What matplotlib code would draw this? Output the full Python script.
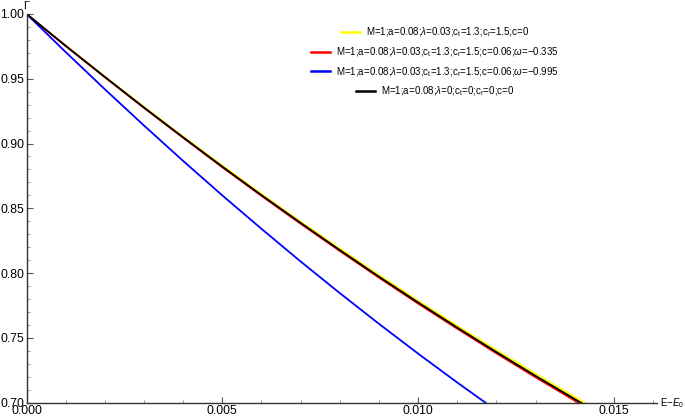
import numpy as np
import matplotlib.pyplot as plt
from matplotlib.legend import Legend
from matplotlib.ticker import MultipleLocator, FormatStrFormatter

plt.rcParams['font.family'] = ['Liberation Sans', 'DejaVu Sans']
plt.rcParams['mathtext.fontset'] = 'custom'
plt.rcParams['mathtext.rm'] = 'Liberation Sans'
plt.rcParams['mathtext.it'] = 'Liberation Sans:italic'

# values
E = [0.000, 0.001, 0.002, 0.003, 0.004, 0.005, 0.006, 0.007,
     0.008, 0.009, 0.010, 0.011, 0.012, 0.013, 0.014, 0.015]
g_yellow = [1.000, 0.9755, 0.9517, 0.9283, 0.9054, 0.8830, 0.8611, 0.8398,
            0.8189, 0.7985, 0.7787, 0.7594, 0.7406, 0.7223, 0.7045, 0.6872]
g_red = [1.000, 0.9753, 0.9512, 0.9275, 0.9044, 0.8817, 0.8596, 0.8381,
         0.8171, 0.7965, 0.7765, 0.7571, 0.7381, 0.7196, 0.7016, 0.6842]
g_black = [1.000, 0.9754, 0.9514, 0.9278, 0.9048, 0.8822, 0.8602, 0.8388,
           0.8178, 0.7973, 0.7774, 0.7580, 0.7391, 0.7207, 0.7028, 0.6854]
E_blue = [0.000, 0.001, 0.002, 0.003, 0.004, 0.005, 0.006,
          0.007, 0.008, 0.009, 0.010, 0.011, 0.012]
g_blue = [1.000, 0.9706, 0.9419, 0.9139, 0.8866, 0.8600, 0.8342,
          0.8090, 0.7846, 0.7609, 0.7379, 0.7156, 0.6940]

labels = [
    r"M=1;a=0.08;$\lambda$=0.03;c$_\mathrm{t}$=1.3;c$_\mathrm{r}$=1.5;c=0",
    r"M=1;a=0.08;$\lambda$=0.03;c$_\mathrm{t}$=1.3;c$_\mathrm{r}$=1.5;c=0.06;$\omega$=" + "\u22120.335",
    r"M=1;a=0.08;$\lambda$=0.03;c$_\mathrm{t}$=1.3;c$_\mathrm{r}$=1.5;c=0.06;$\omega$=" + "\u22120.995",
    r"M=1;a=0.08;$\lambda$=0;c$_\mathrm{t}$=0;c$_\mathrm{r}$=0;c=0",
]

fig = plt.figure(figsize=(6.85, 4.18), dpi=100)
ax = fig.add_axes([0.0387, 0.0366, 0.9203, 0.93])

l1, = ax.plot(E, g_yellow, color='#ffff00', lw=1.3)
l2, = ax.plot(E, g_red, color='#ff0000', lw=1.3)
l3, = ax.plot(E_blue, g_blue, color='#0000ff', lw=1.3)
l4, = ax.plot(E, g_black, color='black', lw=1.3)

ax.set_xlim(0, 0.0161)
ax.set_ylim(0.70, 1.00)
for s in ['top', 'right']:
    ax.spines[s].set_visible(False)
for s in ['left', 'bottom']:
    ax.spines[s].set_linewidth(1.0)
    ax.spines[s].set_color('#333333')

ax.xaxis.set_major_locator(MultipleLocator(0.005))
ax.xaxis.set_minor_locator(MultipleLocator(0.001))
ax.yaxis.set_major_locator(MultipleLocator(0.05))
ax.yaxis.set_minor_locator(MultipleLocator(0.01))
ax.xaxis.set_major_formatter(FormatStrFormatter('%.3f'))
ax.yaxis.set_major_formatter(FormatStrFormatter('%.2f'))
ax.tick_params(which='major', direction='in', length=4, width=0.8, color='#555555',
               labelsize=8.8, pad=1.5)
ax.tick_params(which='minor', direction='in', length=2.5, width=0.6, color='#888888')

fig.text(0.0387, 0.997, "\u0393", ha='center', va='top', fontsize=8)
fig.text(0.963, 0.036, "E\u2212$E_0$", ha='left', va='center', fontsize=7)

rows = [0.922, 0.874, 0.828, 0.782]
for h, lab, y in zip([l1, l2, l3, l4], labels, rows):
    lg = Legend(ax, [h], [lab], loc='center', bbox_to_anchor=(0.635, y),
                bbox_transform=fig.transFigure, frameon=False, fontsize=7,
                handlelength=2.0, handletextpad=0.6, borderpad=0)
    for ln in lg.get_lines():
        ln.set_linewidth(1.8)
    ax.add_artist(lg)

fig.savefig('out.png', dpi=100)
